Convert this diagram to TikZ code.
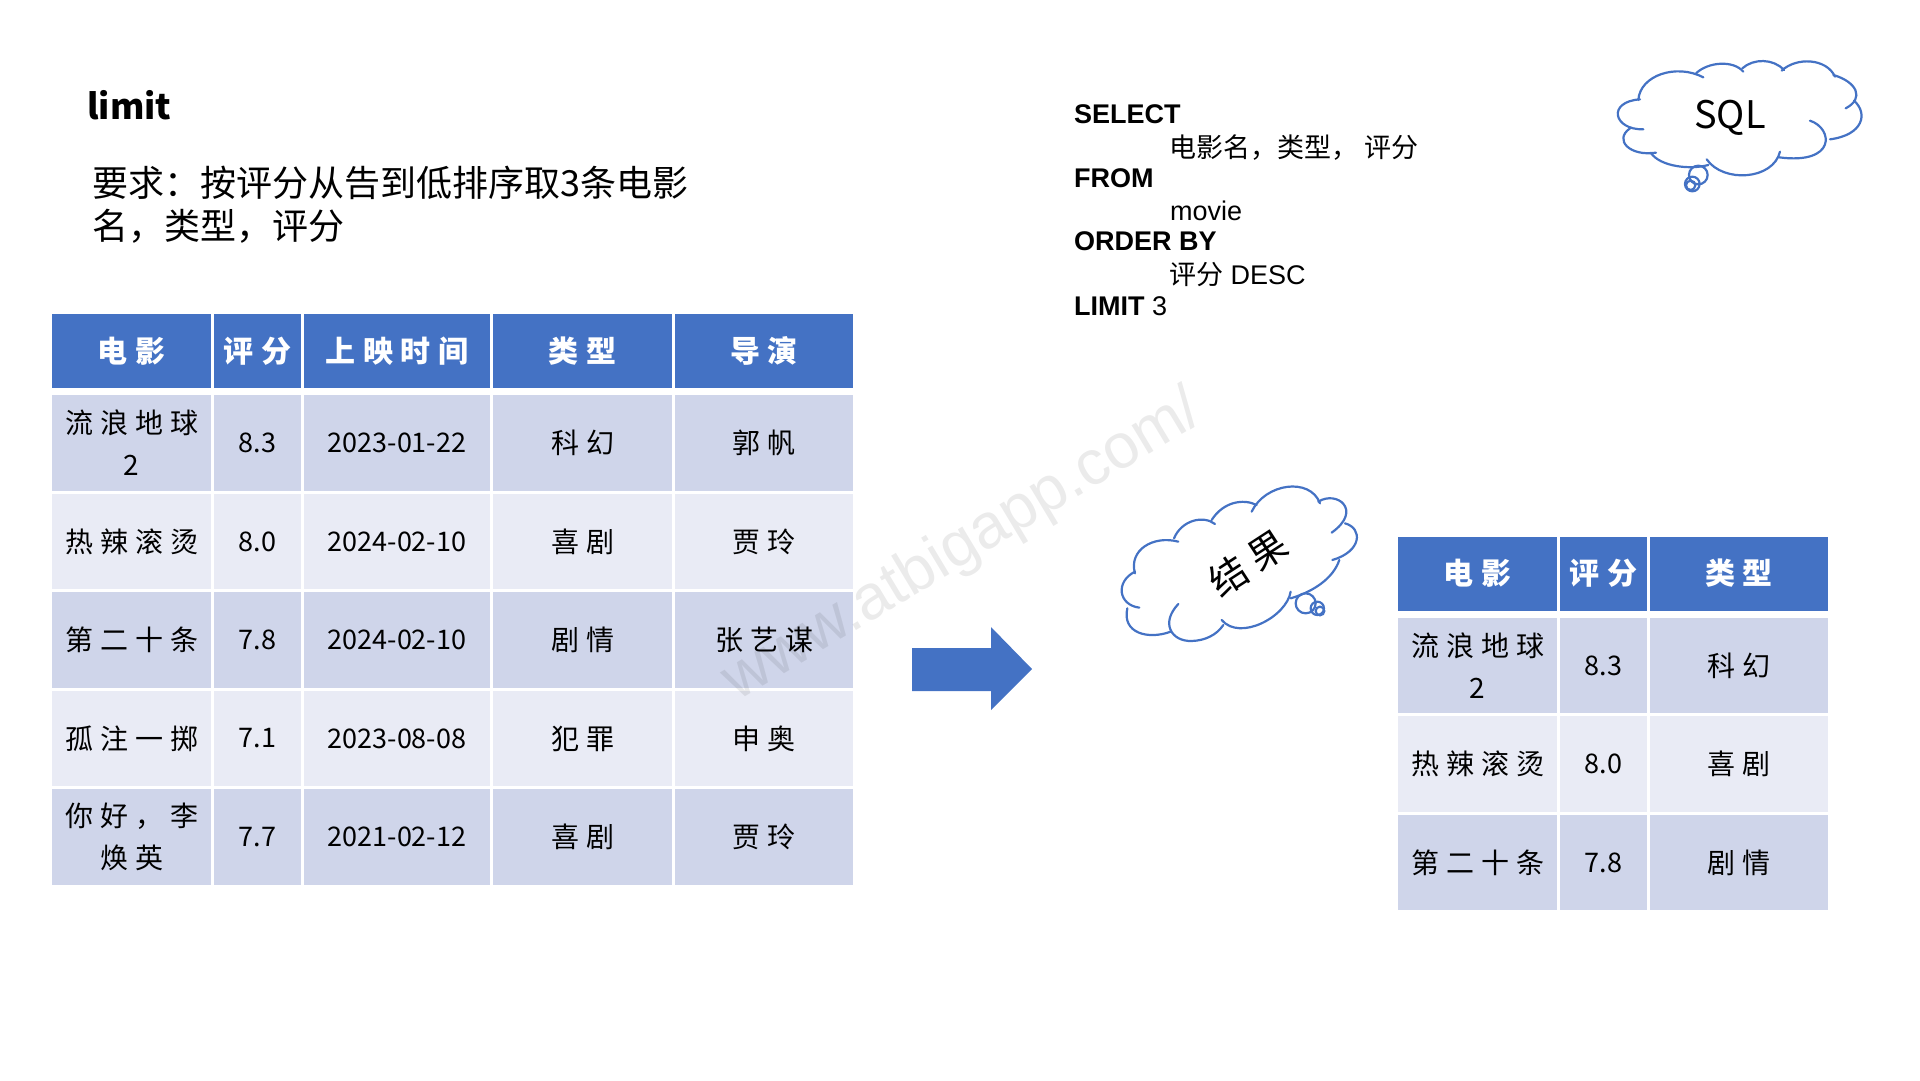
\documentclass[tikz,border=0pt]{standalone}
\usepackage{fontspec}
\usepackage{xcolor}
\usepackage{tikz}
\usetikzlibrary{shapes,arrows,positioning,calc}
\setmainfont{Liberation Sans}
\newfontfamily\cjk{Noto Sans CJK SC}
\newfontfamily\cjkwide[LetterSpace=25]{Noto Sans CJK SC}
\definecolor{pptblue}{HTML}{4472C4}
\definecolor{rowdark}{HTML}{CFD5EA}
\definecolor{rowlight}{HTML}{E9EBF5}
\tikzset{
  basecell/.style={inner sep=0pt,outer sep=0pt,align=center,minimum height=95.5pt},
  headcell/.style={basecell,fill=pptblue,text=white,minimum height=74pt,font=\fontsize{30}{36}\cjkwide\bfseries},
  darkcell/.style={basecell,fill=rowdark,font=\fontsize{28}{42}\cjkwide},
  lightcell/.style={basecell,fill=rowlight,font=\fontsize{28}{42}\cjkwide},
  digits/.style={font=\fontsize{27}{42}\cjk},
  cola/.style={minimum width=159pt},
  colb/.style={minimum width=87pt},
  colc/.style={minimum width=186pt},
  cold/.style={minimum width=179pt},
  cole/.style={minimum width=178pt},
  sqlline/.style={anchor=west,inner sep=0pt,font=\fontsize{27}{32}\selectfont},
  cloudline/.style={draw=pptblue,line width=2.2pt,line cap=round,fill=none},
  cloudtext/.style={inner sep=0pt,font=\fontsize{38}{40}\cjk},
}

\begin{document}
\begin{tikzpicture}[x=1pt,y=-1pt]
\useasboundingbox (0,0) rectangle (1920,1080);

% heading
\node[anchor=west,inner sep=0pt,font=\fontsize{35}{42}\cjk\bfseries] (title) at (87,105) {limit};
\node[anchor=north west,inner sep=0pt,align=left,font=\fontsize{36}{43}\cjk] (task) at (92,166) {要求：按评分从告到低排序取3条电影\\名，类型，评分};

% movie table
\node[headcell,cola] (mh1) at (131.5,351) {电影};
\node[headcell,colb] (mh2) at (257.5,351) {评分};
\node[headcell,colc] (mh3) at (397,351) {上映时间};
\node[headcell,cold] (mh4) at (582.5,351) {类型};
\node[headcell,cole] (mh5) at (764,351) {导演};

\node[darkcell,cola] (ma1) at (131.5,443) {流浪地球\\2};
\node[darkcell,colb,digits] (ma2) at (257.5,443) {8.3};
\node[darkcell,colc,digits] (ma3) at (397,443) {2023-01-22};
\node[darkcell,cold] (ma4) at (582.5,443) {科幻};
\node[darkcell,cole] (ma5) at (764,443) {郭帆};

\node[lightcell,cola] (mb1) at (131.5,541.5) {热辣滚烫};
\node[lightcell,colb,digits] (mb2) at (257.5,541.5) {8.0};
\node[lightcell,colc,digits] (mb3) at (397,541.5) {2024-02-10};
\node[lightcell,cold] (mb4) at (582.5,541.5) {喜剧};
\node[lightcell,cole] (mb5) at (764,541.5) {贾玲};

\node[darkcell,cola] (mc1) at (131.5,640) {第二十条};
\node[darkcell,colb,digits] (mc2) at (257.5,640) {7.8};
\node[darkcell,colc,digits] (mc3) at (397,640) {2024-02-10};
\node[darkcell,cold] (mc4) at (582.5,640) {剧情};
\node[darkcell,cole] (mc5) at (764,640) {张艺谋};

\node[lightcell,cola] (md1) at (131.5,738.5) {孤注一掷};
\node[lightcell,colb,digits] (md2) at (257.5,738.5) {7.1};
\node[lightcell,colc,digits] (md3) at (397,738.5) {2023-08-08};
\node[lightcell,cold] (md4) at (582.5,738.5) {犯罪};
\node[lightcell,cole] (md5) at (764,738.5) {申奥};

\node[darkcell,cola] (me1) at (131.5,837) {你好，李\\焕英};
\node[darkcell,colb,digits] (me2) at (257.5,837) {7.7};
\node[darkcell,colc,digits] (me3) at (397,837) {2021-02-12};
\node[darkcell,cold] (me4) at (582.5,837) {喜剧};
\node[darkcell,cole] (me5) at (764,837) {贾玲};

% query text
\node[sqlline] (q1) at (1074,114) {\textbf{SELECT}};
\node[sqlline] (q2) at (1169,148) {{\cjk 电影名，类型， 评分}};
\node[sqlline] (q3) at (1074,178) {\textbf{FROM}};
\node[sqlline] (q4) at (1170,211) {movie};
\node[sqlline] (q5) at (1074,241) {\textbf{ORDER BY}};
\node[sqlline] (q6) at (1169,275) {{\cjk 评分} DESC};
\node[sqlline] (q7) at (1074,306) {\textbf{LIMIT} 3};

% SQL cloud
\begin{scope}[shift={(1580,40)},scale=0.3333]
\draw[cloudline] (175,180) .. controls (180,105) and (290,70) .. (370,112);
\draw[cloudline] (348,100) .. controls (385,65) and (460,60) .. (490,95);
\draw[cloudline] (487,85) .. controls (520,55) and (580,55) .. (612,90);
\draw[cloudline] (605,92) .. controls (650,50) and (740,55) .. (765,110);
\draw[cloudline] (760,105) .. controls (830,125) and (855,175) .. (797,205);
\draw[cloudline] (822,182) .. controls (865,220) and (850,285) .. (750,298);
\draw[cloudline] (690,242) .. controls (760,265) and (770,375) .. (597,352);
\draw[cloudline] (600,335) .. controls (580,420) and (430,430) .. (380,358);
\draw[cloudline] (385,375) .. controls (330,390) and (240,380) .. (212,338);
\draw[cloudline] (228,338) .. controls (150,350) and (100,300) .. (150,265);
\draw[cloudline] (190,268) .. controls (100,270) and (80,185) .. (180,178);
\draw[cloudline] (355,405) circle (28);
\draw[cloudline] (337,432) circle (22);
\draw[cloudline] (332,436) circle (14);
\end{scope}
\node[cloudtext] (sqltag) at (1730,118) {SQL};

% result cloud
\begin{scope}[shift={(1100,470)},scale=0.3333]
\draw[cloudline] (105,310) .. controls (85,240) and (160,195) .. (235,215);
\draw[cloudline] (222,205) .. controls (245,150) and (310,135) .. (345,162);
\draw[cloudline] (335,150) .. controls (370,95) and (430,85) .. (470,105);
\draw[cloudline] (455,125) .. controls (495,40) and (630,20) .. (660,100);
\draw[cloudline] (655,95) .. controls (710,60) and (790,120) .. (695,188);
\draw[cloudline] (735,160) .. controls (790,175) and (785,245) .. (697,270);
\draw[cloudline] (718,270) .. controls (700,325) and (640,365) .. (572,385);
\draw[cloudline] (572,365) .. controls (560,440) and (420,515) .. (365,450);
\draw[cloudline] (235,402) .. controls (180,460) and (215,515) .. (275,513) .. controls (315,512) and (350,495) .. (370,465);
\draw[cloudline] (212,485) .. controls (145,510) and (65,490) .. (82,415);
\draw[cloudline] (118,413) .. controls (55,405) and (45,335) .. (105,305);
\draw[cloudline] (617,400) circle (30);
\draw[cloudline] (652,415) circle (20);
\draw[cloudline] (660,423) circle (13);
\end{scope}
\node[cloudtext,rotate=33] (resulttag) at (1248,563) {结\hspace{8pt}果};

% big arrow
\fill[pptblue] (912,648) -- (991,648) -- (991,627) -- (1032,669) -- (991,710) -- (991,691) -- (912,691) -- cycle;

% result table
\node[headcell,cola] (rh1) at (1477.5,573.5) {电影};
\node[headcell,colb] (rh2) at (1603.5,573.5) {评分};
\node[headcell,cole] (rh3) at (1739,573.5) {类型};

\node[darkcell,cola] (ra1) at (1477.5,665.5) {流浪地球\\2};
\node[darkcell,colb,digits] (ra2) at (1603.5,665.5) {8.3};
\node[darkcell,cole] (ra3) at (1739,665.5) {科幻};

\node[lightcell,cola] (rb1) at (1477.5,764) {热辣滚烫};
\node[lightcell,colb,digits] (rb2) at (1603.5,764) {8.0};
\node[lightcell,cole] (rb3) at (1739,764) {喜剧};

\node[darkcell,cola] (rc1) at (1477.5,862.5) {第二十条};
\node[darkcell,colb,digits] (rc2) at (1603.5,862.5) {7.8};
\node[darkcell,cole] (rc3) at (1739,862.5) {剧情};

% watermark
\node[rotate=31,text=black,opacity=0.08,inner sep=0pt,font=\fontsize{63}{70}\selectfont] (mark) at (963,547) {www.atbigapp.com/};
\end{tikzpicture}
\end{document}
